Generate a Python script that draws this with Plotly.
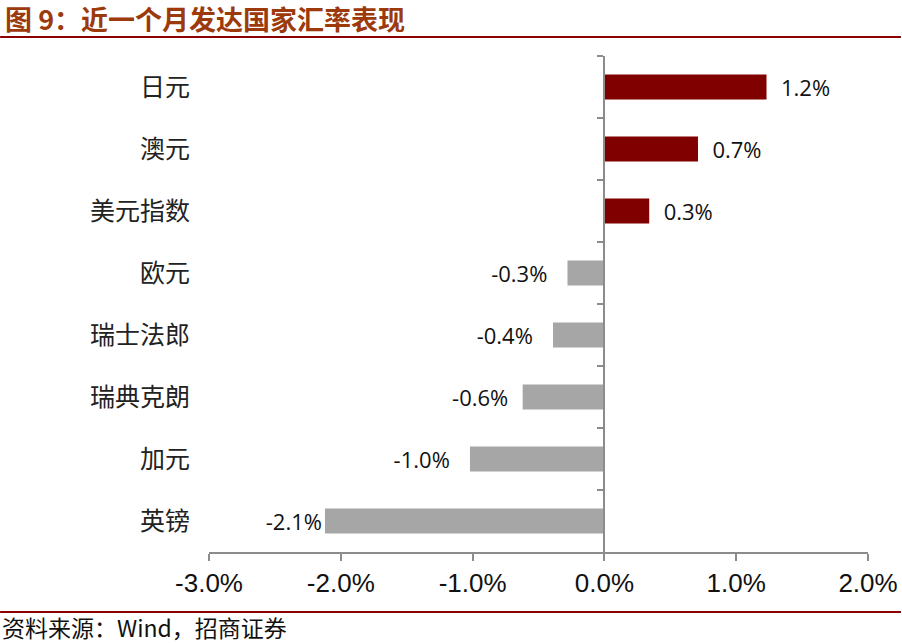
import plotly.graph_objects as go

categories = ["日元", "澳元", "美元指数", "欧元", "瑞士法郎", "瑞典克朗", "加元", "英镑"]
values = [1.23, 0.71, 0.34, -0.28, -0.39, -0.62, -1.02, -2.12]
label_pad = [2, 2, 2, 3, 3, 2, 3, 0]
x_ticks = [-3, -2, -1, 0, 1, 2]
x_tick_labels = ["-3.0%", "-2.0%", "-1.0%", "0.0%", "1.0%", "2.0%"]

POS_COLOR = "#800000"
NEG_COLOR = "#A6A6A6"
AXIS_COLOR = "#8C8C8C"

colors = [POS_COLOR if v >= 0 else NEG_COLOR for v in values]
texts = []
for v, p in zip(values, label_pad):
    s = f"{v:.1f}%"
    texts.append(("\u00a0" * p + s) if v >= 0 else (s + "\u00a0" * p))

fig = go.Figure()
fig.add_trace(go.Bar(
    x=values, y=categories, orientation="h",
    marker=dict(color=colors, line=dict(width=0)),
    text=texts, textposition="outside", cliponaxis=False, constraintext="none",
    textfont=dict(family="Open Sans", size=22, color="#111111"),
    hoverinfo="skip", showlegend=False,
))
# invisible companion trace to drive the zero-positioned category axis
fig.add_trace(go.Scatter(
    x=[0] * len(categories), y=categories, yaxis="y2", mode="markers",
    marker=dict(size=1, opacity=0), hoverinfo="skip", showlegend=False,
))

fig.update_layout(
    width=902, height=643,
    margin=dict(l=209, r=34, t=56, b=91, autoexpand=False),
    paper_bgcolor="white", plot_bgcolor="white",
    bargap=0.6,
    xaxis=dict(
        range=[-3, 2], tickvals=x_ticks, ticktext=x_tick_labels,
        showgrid=False, zeroline=False, automargin=False,
        showline=True, linecolor=AXIS_COLOR, linewidth=2,
        ticks="outside", ticklen=7, tickwidth=2, tickcolor=AXIS_COLOR,
        tickfont=dict(family="Liberation Sans", size=26, color="#111111"),
    ),
    yaxis=dict(
        type="category", categoryorder="array", categoryarray=categories,
        range=[7.5, -0.5], showgrid=False, zeroline=False, showline=False,
        ticks="", ticklabelstandoff=18, automargin=False,
        tickfont=dict(family="Noto Sans CJK SC", size=25, color="#222222"),
    ),
    yaxis2=dict(
        type="category", categoryorder="array", categoryarray=categories,
        range=[7.5, -0.5], overlaying="y", anchor="free", position=0.6,
        side="left", showgrid=False, zeroline=False, automargin=False,
        showline=True, linecolor=AXIS_COLOR, linewidth=2,
        ticks="outside", ticklen=6, tickwidth=2, tickcolor=AXIS_COLOR,
        tickson="boundaries", showticklabels=False,
    ),
    shapes=[
        dict(type="line", xref="paper", yref="paper", x0=-0.317, x1=1.05,
             y0=(552 - 37) / 496, y1=(552 - 37) / 496,
             line=dict(color="#8B0000", width=2)),
        dict(type="line", xref="paper", yref="paper", x0=-0.317, x1=1.05,
             y0=(552 - 612) / 496, y1=(552 - 612) / 496,
             line=dict(color="#8B0000", width=2)),
    ],
    annotations=[
        dict(text="<b>图 9：近一个月发达国家汇率表现</b>", xref="paper", yref="paper",
             x=-0.313, y=(552 - 19) / 496, xanchor="left", yanchor="middle",
             showarrow=False,
             font=dict(family="Noto Sans CJK SC", size=27, color="#9C3A0C")),
        dict(text="资料来源：Wind，招商证券", xref="paper", yref="paper",
             x=-0.317, y=(552 - 627) / 496, xanchor="left", yanchor="middle",
             showarrow=False,
             font=dict(family="Noto Sans CJK SC", size=23, color="#111111")),
    ],
)

fig.write_html("out.html", config={"displayModeBar": False},
               post_script="document.body.style.margin='0';")
